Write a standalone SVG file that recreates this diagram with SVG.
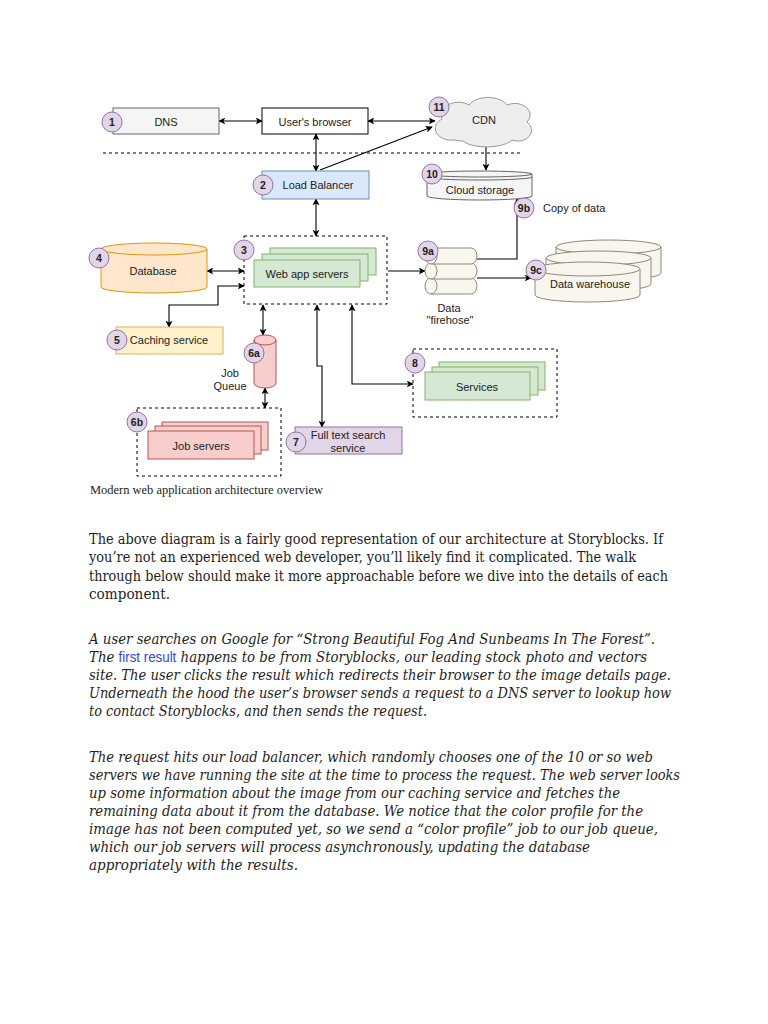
<svg xmlns="http://www.w3.org/2000/svg" width="768" height="1024" viewBox="0 0 768 1024">
<defs>
<marker id="arr" viewBox="0 0 10 10" refX="9" refY="5" markerWidth="7" markerHeight="7" markerUnits="userSpaceOnUse" orient="auto-start-reverse">
<path d="M0,0 L10,5 L0,10 L2.5,5 Z" fill="#000"/>
</marker>
</defs>
<style>
.lbl{font-family:"Liberation Sans",Arial,sans-serif;font-size:11px;fill:#222;text-anchor:middle;dominant-baseline:central}
.lbll{font-family:"Liberation Sans",Arial,sans-serif;font-size:11px;fill:#222;dominant-baseline:central}
.badge{fill:#e1d5e7;stroke:#9673a6;stroke-width:1}
.btxt{font-family:"Liberation Sans",Arial,sans-serif;font-size:10.5px;font-weight:bold;fill:#222;text-anchor:middle;dominant-baseline:central}
.gray{fill:#f5f5f5;stroke:#666;stroke-width:1}
.white{fill:#fff;stroke:#000;stroke-width:1}
.blue{fill:#dae8fc;stroke:#6c8ebf;stroke-width:1}
.green{fill:#d5e8d4;stroke:#82b366;stroke-width:1}
.orange{fill:#ffe6cc;stroke:#d79b00;stroke-width:1}
.yellow{fill:#fff2cc;stroke:#d6b656;stroke-width:1}
.red{fill:#f8cecc;stroke:#b85450;stroke-width:1}
.purple{fill:#e1d5e7;stroke:#9673a6;stroke-width:1}
.beige{fill:#f9f7ed;stroke:#8a8a80;stroke-width:1}
.dash{fill:#fff;stroke:#000;stroke-width:1;stroke-dasharray:3,3}
.edge2{fill:none;stroke:#000;stroke-width:1.1;marker-start:url(#arr);marker-end:url(#arr)}
.edge1{fill:none;stroke:#000;stroke-width:1.1;marker-end:url(#arr)}
.body{font-family:"DejaVu Serif","Liberation Serif",serif;font-size:14px;fill:#1e1e1e}
.it{font-style:italic}
</style>
<rect width="768" height="1024" fill="#fff"/>

<line x1="103" y1="153" x2="520" y2="153" stroke="#000" stroke-width="1" stroke-dasharray="3,3"/>

<g id="connectors">
<path class="edge2" d="M219,121 H262"/>
<path class="edge2" d="M368,121 H435"/>
<path class="edge2" d="M316,134 V171"/>
<path class="edge1" d="M320,170 L432,127" stroke="#333"/>
<path class="edge2" d="M486,141 V170"/>
<path class="edge2" d="M316,199 V236"/>
<path class="edge2" d="M207,271 H244"/>
<path class="edge2" d="M244,286 H218 V305 H169 V327"/>
<path class="edge2" d="M263,305 V335"/>
<path class="edge2" d="M265,388 V408"/>
<path class="edge2" d="M317,305 V366 H322 V427"/>
<path class="edge2" d="M352,305 V384 H413"/>
<path class="edge1" d="M388,271 H425"/>
<path class="edge1" d="M477,259 H517 V199"/>
<path class="edge1" d="M477,278 H531"/>
</g>

<g id="dns">
<rect class="gray" x="113" y="108" width="106" height="26"/>
<text class="lbl" x="166" y="122">DNS</text>
<circle class="badge" cx="112" cy="122" r="10"/><text class="btxt" x="112" y="122">1</text>
</g>

<g id="browser">
<rect class="white" x="262" y="108" width="106" height="26"/>
<text class="lbl" x="315" y="122">User's browser</text>
</g>

<g id="cdn">
<path d="M455,140 C436,142 429,126 442,119 C437,105 458,98 469,105 C476,95 500,95 507,105 C521,99 537,111 527,122 C538,131 527,145 512,140 C503,149 472,149 463,141 C460,141 458,141 455,140 Z" fill="#eeeeee" stroke="#999" stroke-width="1"/>
<text class="lbl" x="484" y="120">CDN</text>
<circle class="badge" cx="439" cy="107" r="10"/><text class="btxt" x="439" y="107">11</text>
</g>

<g id="loadbalancer">
<rect class="blue" x="262" y="171" width="107" height="28"/>
<text class="lbl" x="318" y="185">Load Balancer</text>
<circle class="badge" cx="263" cy="185" r="10"/><text class="btxt" x="263" y="185">2</text>
</g>

<g id="cloudstorage">
<path class="gray" d="M427,174 a52.5,3 0 0 1 105,0 v22 a52.5,4 0 0 1 -105,0 Z"/>
<path fill="none" stroke="#666" d="M427,174 a52.5,3 0 0 0 105,0 M427,177 a52.5,3 0 0 0 105,0"/>
<text class="lbl" x="480" y="190">Cloud storage</text>
<circle class="badge" cx="432" cy="174" r="10"/><text class="btxt" x="432" y="174">10</text>
</g>

<g id="copydata">
<circle class="badge" cx="524" cy="208" r="10"/><text class="btxt" x="524" y="208">9b</text>
<text class="lbll" x="543" y="208">Copy of data</text>
</g>

<g id="webapp">
<rect class="dash" x="244" y="236" width="143" height="68"/>
<rect class="green" x="270" y="248" width="106" height="27"/>
<rect class="green" x="262" y="254" width="106" height="27"/>
<rect class="green" x="254" y="260" width="106" height="27"/>
<text class="lbl" x="307" y="274">Web app servers</text>
<circle class="badge" cx="244" cy="250" r="10"/><text class="btxt" x="244" y="250">3</text>
</g>

<g id="database">
<path class="orange" d="M101,249 a53,6 0 0 1 106,0 v38 a53,6 0 0 1 -106,0 Z"/>
<path fill="none" stroke="#d79b00" d="M101,249 a53,6 0 0 0 106,0"/>
<text class="lbl" x="153" y="271">Database</text>
<circle class="badge" cx="99" cy="258" r="10"/><text class="btxt" x="99" y="258">4</text>
</g>

<g id="firehose">
<path class="beige" d="M431,278 h40 a6,8 0 0 1 0,16 h-40 a6,8 0 0 1 0,-16 Z M431,278 a6,8 0 0 1 0,16"/>
<path class="beige" d="M431,263 h40 a6,8 0 0 1 0,16 h-40 a6,8 0 0 1 0,-16 Z M431,263 a6,8 0 0 1 0,16"/>
<path class="beige" d="M431,248 h40 a6,8 0 0 1 0,16 h-40 a6,8 0 0 1 0,-16 Z M431,248 a6,8 0 0 1 0,16"/>
<circle class="badge" cx="428" cy="251" r="10"/><text class="btxt" x="428" y="251">9a</text>
<text class="lbl" x="449" y="308">Data</text>
<text class="lbl" x="450" y="320">"firehose"</text>
</g>

<g id="warehouse">
<path class="beige" d="M556,247 a52.5,7 0 0 1 105,0 v26 a52.5,7 0 0 1 -105,0 Z"/>
<path fill="none" stroke="#8a8a80" d="M556,247 a52.5,7 0 0 0 105,0"/>
<path class="beige" d="M546,258 a52.5,7 0 0 1 105,0 v26 a52.5,7 0 0 1 -105,0 Z"/>
<path fill="none" stroke="#8a8a80" d="M546,258 a52.5,7 0 0 0 105,0"/>
<path class="beige" d="M535,269 a52.5,7 0 0 1 105,0 v26 a52.5,7 0 0 1 -105,0 Z"/>
<path fill="none" stroke="#8a8a80" d="M535,269 a52.5,7 0 0 0 105,0"/>
<text class="lbl" x="590" y="284">Data warehouse</text>
<circle class="badge" cx="536" cy="270" r="10"/><text class="btxt" x="536" y="270">9c</text>
</g>

<g id="caching">
<rect class="yellow" x="116" y="327" width="107" height="27"/>
<text class="lbl" x="169" y="340">Caching service</text>
<circle class="badge" cx="117" cy="340" r="10"/><text class="btxt" x="117" y="340">5</text>
</g>

<g id="jobqueue">
<path class="red" d="M254,340 a11,5 0 0 1 22,0 v43 a11,5 0 0 1 -22,0 Z"/>
<path fill="none" stroke="#b85450" d="M254,340 a11,5 0 0 0 22,0"/>
<circle class="badge" cx="254" cy="353" r="10"/><text class="btxt" x="254" y="353">6a</text>
<text class="lbl" x="230" y="373">Job</text>
<text class="lbl" x="230" y="386">Queue</text>
</g>

<g id="jobservers">
<rect class="dash" x="137" y="408" width="144" height="68"/>
<rect class="red" x="162" y="422" width="106" height="28"/>
<rect class="red" x="155" y="426" width="106" height="28"/>
<rect class="red" x="148" y="431" width="106" height="28"/>
<text class="lbl" x="201" y="446">Job servers</text>
<circle class="badge" cx="137" cy="422" r="10"/><text class="btxt" x="137" y="422">6b</text>
</g>

<g id="fulltext">
<rect class="purple" x="295" y="427" width="107" height="27"/>
<text class="lbl" x="348" y="435">Full text search</text>
<text class="lbl" x="348" y="448">service</text>
<circle class="badge" cx="296" cy="442" r="10"/><text class="btxt" x="296" y="442">7</text>
</g>

<g id="services">
<rect class="dash" x="413" y="349" width="144" height="68"/>
<rect class="green" x="439" y="362" width="106" height="28"/>
<rect class="green" x="432" y="367" width="106" height="28"/>
<rect class="green" x="425" y="372" width="105" height="28"/>
<text class="lbl" x="477" y="387">Services</text>
<circle class="badge" cx="415" cy="363" r="10"/><text class="btxt" x="415" y="363">8</text>
</g>

<text x="90" y="494" font-family="Liberation Serif,'Times New Roman',serif" font-size="12.5" fill="#222" textLength="233" lengthAdjust="spacingAndGlyphs">Modern web application architecture overview</text>

<g class="body">
<text x="89" y="544" textLength="574" lengthAdjust="spacingAndGlyphs">The above diagram is a fairly good representation of our architecture at Storyblocks. If</text>
<text x="89" y="562" textLength="547" lengthAdjust="spacingAndGlyphs">you’re not an experienced web developer, you’ll likely find it complicated. The walk</text>
<text x="89" y="581" textLength="579" lengthAdjust="spacingAndGlyphs">through below should make it more approachable before we dive into the details of each</text>
<text x="89" y="599" textLength="81" lengthAdjust="spacingAndGlyphs">component.</text>
</g>

<g class="body it">
<text x="89" y="644" textLength="566" lengthAdjust="spacingAndGlyphs">A user searches on Google for “Strong Beautiful Fog And Sunbeams In The Forest”.</text>
<text x="89" y="662" textLength="558" lengthAdjust="spacingAndGlyphs">The <tspan fill="#3344dd" font-style="normal" font-family="'Liberation Sans',Arial,sans-serif">first result</tspan> happens to be from Storyblocks, our leading stock photo and vectors</text>
<text x="89" y="680" textLength="582" lengthAdjust="spacingAndGlyphs">site. The user clicks the result which redirects their browser to the image details page.</text>
<text x="89" y="698" textLength="582" lengthAdjust="spacingAndGlyphs">Underneath the hood the user’s browser sends a request to a DNS server to lookup how</text>
<text x="89" y="716" textLength="338" lengthAdjust="spacingAndGlyphs">to contact Storyblocks, and then sends the request.</text>
</g>

<g class="body it">
<text x="89" y="762" textLength="564" lengthAdjust="spacingAndGlyphs">The request hits our load balancer, which randomly chooses one of the 10 or so web</text>
<text x="89" y="780" textLength="591" lengthAdjust="spacingAndGlyphs">servers we have running the site at the time to process the request. The web server looks</text>
<text x="89" y="798" textLength="531" lengthAdjust="spacingAndGlyphs">up some information about the image from our caching service and fetches the</text>
<text x="89" y="816" textLength="554" lengthAdjust="spacingAndGlyphs">remaining data about it from the database. We notice that the color profile for the</text>
<text x="89" y="834" textLength="569" lengthAdjust="spacingAndGlyphs">image has not been computed yet, so we send a “color profile” job to our job queue,</text>
<text x="89" y="852" textLength="501" lengthAdjust="spacingAndGlyphs">which our job servers will process asynchronously, updating the database</text>
<text x="89" y="870" textLength="209" lengthAdjust="spacingAndGlyphs">appropriately with the results.</text>
</g>
</svg>
